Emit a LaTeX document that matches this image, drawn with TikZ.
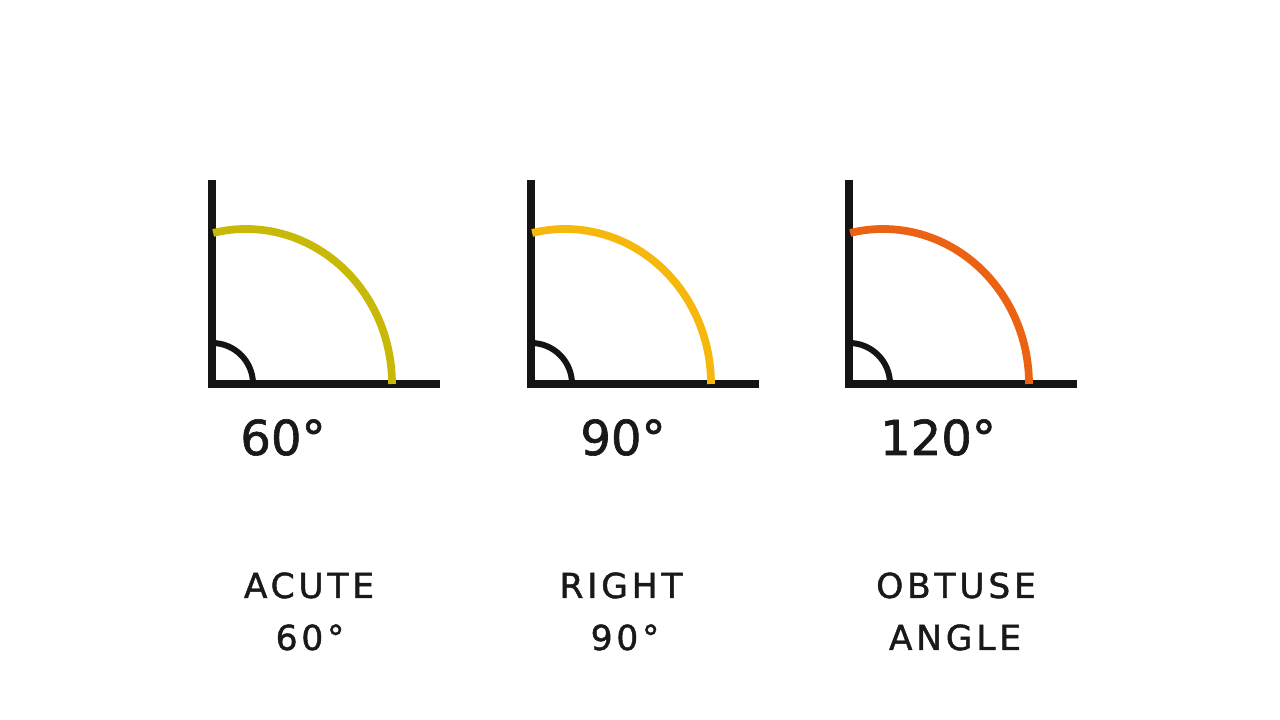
\documentclass[tikz,border=0pt]{standalone}
\usepackage{fontspec}
\setmainfont[FakeBold=1.3]{DejaVu Sans}
\newfontfamily\capsfont[LetterSpace=11,FakeBold=1.3]{DejaVu Sans}
\usepackage{tikz}
\usetikzlibrary{positioning}
\definecolor{acuteolive}{RGB}{200,184,8}
\definecolor{rightamber}{RGB}{246,184,12}
\definecolor{obtuseorange}{RGB}{235,98,18}
\tikzset{
  leg/.style={line width=2.3pt,black!92,line join=miter},
  mark arc/.style={line width=1.7pt,black!92},
  deg label/.style={anchor=base,text=black!90,font=\fontsize{13.7}{16}\selectfont},
  kind label/.style={anchor=base,text=black!90,font=\fontsize{9.8}{12}\capsfont}
}

\begin{document}
\begin{tikzpicture}
  \useasboundingbox (0,0) rectangle (12.8,7.2);
  % the three angles
  \foreach \x/\col in {2.12/acuteolive, 5.31/rightamber, 8.49/obtuseorange} {
    \draw[leg] (\x,5.40) -- (\x,3.36) -- ({\x+2.28},3.36);
    \draw[mark arc] (\x,3.77) arc[start angle=90,end angle=0,radius=0.41];
    \draw[line width=2.2pt,\col] ({\x+1.80},3.36) arc[start angle=0,end angle=103,x radius=1.46,y radius=1.55];
  }
  % degree labels
  \node[deg label] (deg1) at (2.83,2.65) {60°};
  \node[deg label] (deg2) at (6.23,2.65) {90°};
  \node[deg label] (deg3) at (9.38,2.65) {120°};
  % names
  \node[kind label] (acute) at (3.09,1.22) {ACUTE};
  \node[kind label] (acutedeg) at (3.10,0.70) {60°};
  \node[kind label] (right) at (6.21,1.22) {RIGHT};
  \node[kind label] (rightdeg) at (6.25,0.70) {90°};
  \node[kind label] (obtuse) at (9.56,1.22) {OBTUSE};
  \node[kind label] (obtuseangle) at (9.55,0.70) {ANGLE};
\end{tikzpicture}
\end{document}
